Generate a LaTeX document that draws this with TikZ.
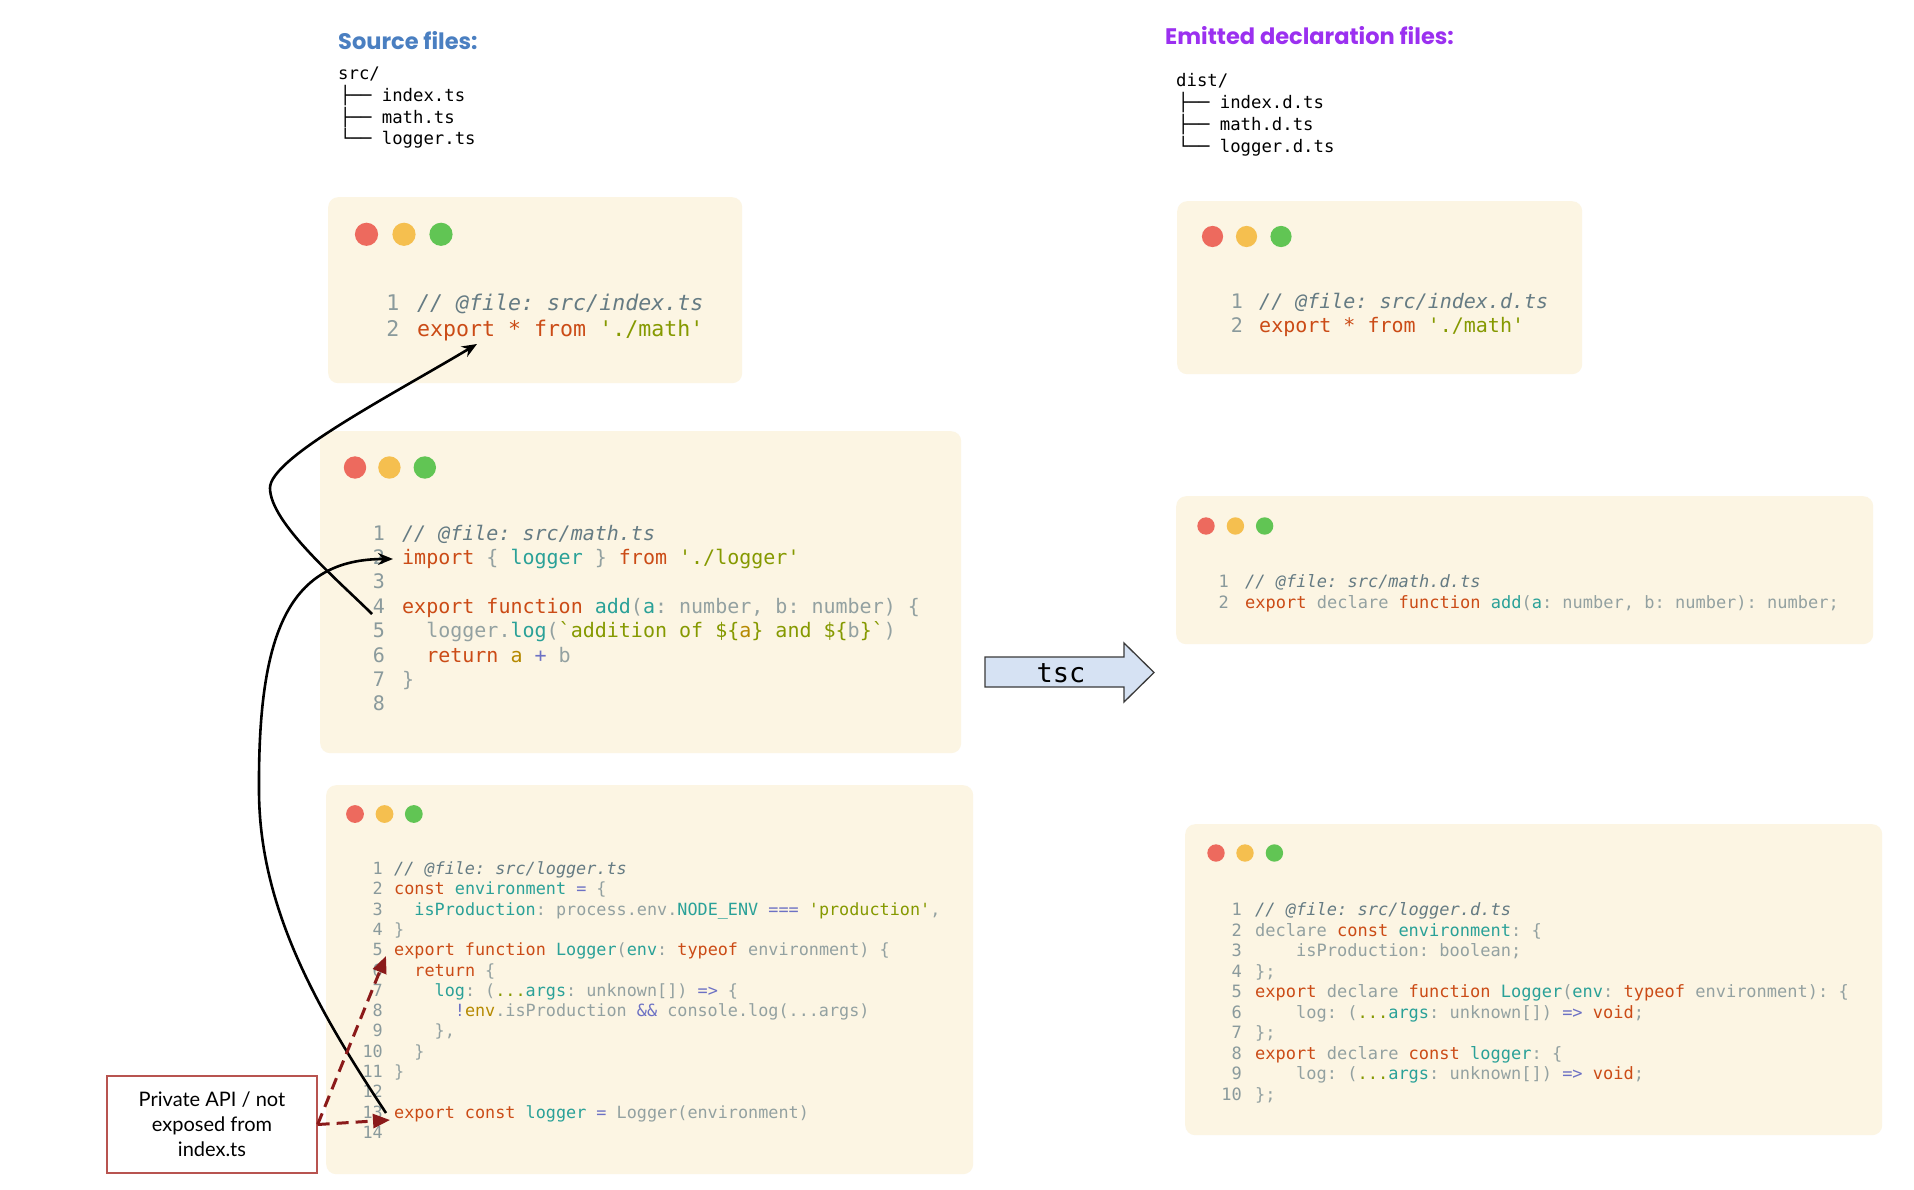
\documentclass[tikz,border=0pt]{standalone}
\usepackage{fontspec}
\setmonofont{DejaVu Sans Mono}
\newfontfamily\titlefont{Poppins}
\newfontfamily\notefont{Lato}
\usetikzlibrary{arrows.meta}
\definecolor{codebg}{HTML}{FCF5E3}
\definecolor{kwc}{HTML}{CB4B16}
\definecolor{stc}{HTML}{859900}
\definecolor{idc}{HTML}{2AA198}
\definecolor{plc}{HTML}{93A1A1}
\definecolor{cmc}{HTML}{657B83}
\definecolor{opc}{HTML}{6C71C4}
\definecolor{ylc}{HTML}{B58900}
\definecolor{lnc}{HTML}{8A9A9C}
\definecolor{dotr}{HTML}{ED6A5E}
\definecolor{doty}{HTML}{F5BF4F}
\definecolor{dotg}{HTML}{61C554}
\definecolor{srcblue}{HTML}{4A7FC1}
\definecolor{emitpurple}{HTML}{9B30F0}
\definecolor{tscfill}{HTML}{D6E2F3}
\definecolor{tscedge}{HTML}{3A3A3A}
\definecolor{darkred}{HTML}{8B1A1A}
\definecolor{paedge}{HTML}{B85450}
\newcommand\kwT[1]{\textcolor{kwc}{#1}}
\newcommand\stT[1]{\textcolor{stc}{#1}}
\newcommand\idT[1]{\textcolor{idc}{#1}}
\newcommand\plT[1]{\textcolor{plc}{#1}}
\newcommand\cmT[1]{\textcolor{cmc}{\itshape #1}}
\newcommand\opT[1]{\textcolor{opc}{#1}}
\newcommand\ylT[1]{\textcolor{ylc}{#1}}
\newcommand\ind[1]{\hspace*{#1\fontcharwd\font`0}}
\newcommand\codeln[6]{\node[lnum] (#1n) at (#2,#4) {#5};\node[codetxt] (#1) at (#3,#4) {#6};}
\tikzset{
  codebox/.style={fill=codebg, rounded corners=10pt, anchor=north west, inner sep=0pt},
  lnum/.style={anchor=base east, inner sep=0pt, text=lnc},
  codetxt/.style={anchor=base west, inner sep=0pt, text=plc},
  treetxt/.style={anchor=base west, inner sep=0pt, font=\ttfamily\fontsize{17.3}{21}\selectfont},
  titletxt/.style={anchor=base west, inner sep=0pt, font=\titlefont\bfseries\fontsize{22.5}{26}\selectfont},
  blackarrow/.style={draw=black, line width=2.6pt, -{Stealth[length=15pt,width=12pt]}},
  redarrow/.style={draw=darkred, line width=3pt, dash pattern=on 12pt off 7pt, -{Triangle[length=17pt,width=14pt]}},
  pabox/.style={draw=paedge, line width=1.3pt, minimum width=210pt, minimum height=97pt, align=center, inner sep=0pt, font=\notefont\fontsize{20}{25}\selectfont},
}
\begin{document}
\begin{tikzpicture}[x=1pt,y=-1pt]
\useasboundingbox[fill=white] (0,0) rectangle (1914,1190);

% titles and trees
\node[titletxt, text=srcblue] (srctitle) at (338,50) {Source files:};
\node[treetxt] (t0) at (338,80) {src/};
\node[treetxt] (t1) at (340,102) {├── index.ts};
\node[treetxt] (t2) at (340,123.5) {├── math.ts};
\node[treetxt] (t3) at (340,145) {└── logger.ts};

\node[titletxt, text=emitpurple] (emittitle) at (1165,45) {Emitted declaration files:};
\node[treetxt] (d0) at (1176,87) {dist/};
\node[treetxt] (d1) at (1178,109) {├── index.d.ts};
\node[treetxt] (d2) at (1178,131) {├── math.d.ts};
\node[treetxt] (d3) at (1178,153) {└── logger.d.ts};

% boxes
\node[codebox, minimum width=414pt, minimum height=186pt] (box1) at (328,197) {};
\node[codebox, minimum width=641pt, minimum height=322pt] (box2) at (320,431) {};
\node[codebox, minimum width=647pt, minimum height=389pt] (box3) at (326,785) {};
\node[codebox, minimum width=405pt, minimum height=173pt] (box4) at (1177,201) {};
\node[codebox, minimum width=697pt, minimum height=148pt] (box5) at (1176,496) {};
\node[codebox, minimum width=697pt, minimum height=311pt] (box6) at (1185,824) {};

% window dots
\fill[dotr] (366.5,234.3) circle[radius=11.6pt];
\fill[doty] (404,234.3) circle[radius=11.6pt];
\fill[dotg] (441,234.3) circle[radius=11.6pt];
\fill[dotr] (355,467.5) circle[radius=11.2pt];
\fill[doty] (389.4,467.5) circle[radius=11.2pt];
\fill[dotg] (424.8,467.5) circle[radius=11.2pt];
\fill[dotr] (355,814) circle[radius=8.9pt];
\fill[doty] (384.5,814) circle[radius=8.9pt];
\fill[dotg] (413.8,814) circle[radius=8.9pt];
\fill[dotr] (1212.5,236.5) circle[radius=10.6pt];
\fill[doty] (1246.5,236.5) circle[radius=10.6pt];
\fill[dotg] (1281,236.5) circle[radius=10.6pt];
\fill[dotr] (1206,526) circle[radius=8.7pt];
\fill[doty] (1235.4,526) circle[radius=8.7pt];
\fill[dotg] (1264.6,526) circle[radius=8.7pt];
\fill[dotr] (1216,853) circle[radius=8.7pt];
\fill[doty] (1245,853) circle[radius=8.7pt];
\fill[dotg] (1274.4,853) circle[radius=8.7pt];

% box 1: src/index.ts
\begin{scope}[font=\ttfamily\fontsize{21.6}{26}\selectfont]
\codeln{ba1}{399.5}{417}{311}{1}{\cmT{// @file: src/index.ts}}
\codeln{ba2}{399.5}{417}{336}{2}{\kwT{export * from} \stT{'./math'}}
\end{scope}

% box 2: src/math.ts
\begin{scope}[font=\ttfamily\fontsize{20}{24}\selectfont]
\codeln{bb1}{385}{402}{540}{1}{\cmT{// @file: src/math.ts}}
\codeln{bb2}{385}{402}{564.4}{2}{\kwT{import} \plT{\{} \idT{logger} \plT{\}} \kwT{from} \stT{'./logger'}}
\codeln{bb3}{385}{402}{588.8}{3}{}
\codeln{bb4}{385}{402}{613.2}{4}{\kwT{export function} \idT{add}\plT{(}\idT{a}\plT{: number, b: number) \{}}
\codeln{bb5}{385}{402}{637.6}{5}{\ind{2}\plT{logger.}\idT{log}\plT{(}\stT{`addition of \$\{}\ylT{a}\stT{\} and \$\{}\plT{b}\stT{\}`}\plT{)}}
\codeln{bb6}{385}{402}{662}{6}{\ind{2}\kwT{return} \ylT{a} \opT{+} \plT{b}}
\codeln{bb7}{385}{402}{686.4}{7}{\plT{\}}}
\codeln{bb8}{385}{402}{710.8}{8}{}
\end{scope}

% box 3: src/logger.ts
\begin{scope}[font=\ttfamily\fontsize{16.8}{20}\selectfont]
\codeln{bc1}{383}{394}{874.5}{1}{\cmT{// @file: src/logger.ts}}
\codeln{bc2}{383}{394}{894.8}{2}{\kwT{const} \idT{environment} \opT{=} \plT{\{}}
\codeln{bc3}{383}{394}{915.1}{3}{\ind{2}\idT{isProduction}\plT{: process.env.}\idT{NODE\_ENV} \opT{===} \stT{'production'}\plT{,}}
\codeln{bc4}{383}{394}{935.4}{4}{\plT{\}}}
\codeln{bc5}{383}{394}{955.7}{5}{\kwT{export function} \idT{Logger}\plT{(}\idT{env}\plT{:} \kwT{typeof} \plT{environment) \{}}
\codeln{bc6}{383}{394}{976}{6}{\ind{2}\kwT{return} \plT{\{}}
\codeln{bc7}{383}{394}{996.3}{7}{\ind{4}\idT{log}\plT{: (}\stT{...}\idT{args}\plT{: unknown[])} \opT{=>} \plT{\{}}
\codeln{bc8}{383}{394}{1016.6}{8}{\ind{6}\opT{!}\ylT{env}\plT{.isProduction} \opT{\&\&} \plT{console.log(...args)}}
\codeln{bc9}{383}{394}{1036.9}{9}{\ind{4}\plT{\},}}
\codeln{bc10}{383}{394}{1057.2}{10}{\ind{2}\plT{\}}}
\codeln{bc11}{383}{394}{1077.5}{11}{\plT{\}}}
\codeln{bc12}{383}{394}{1097.8}{12}{}
\codeln{bc13}{383}{394}{1118.1}{13}{\kwT{export const} \idT{logger} \opT{=} \plT{Logger(environment)}}
\codeln{bc14}{383}{394}{1138.4}{14}{}
\end{scope}

% box 4: index.d.ts
\begin{scope}[font=\ttfamily\fontsize{20}{24}\selectfont]
\codeln{bd1}{1243}{1259}{308.5}{1}{\cmT{// @file: src/index.d.ts}}
\codeln{bd2}{1243}{1259}{332.5}{2}{\kwT{export * from} \stT{'./math'}}
\end{scope}

% box 5: math.d.ts
\begin{scope}[font=\ttfamily\fontsize{17}{20}\selectfont]
\codeln{be1}{1229}{1245}{587}{1}{\cmT{// @file: src/math.d.ts}}
\codeln{be2}{1229}{1245}{608}{2}{\kwT{export} \plT{declare} \kwT{function} \idT{add}\plT{(}\idT{a}\plT{: number, b: number): number;}}
\end{scope}

% box 6: logger.d.ts
\begin{scope}[font=\ttfamily\fontsize{17}{20}\selectfont]
\codeln{bf1}{1242}{1255}{915.5}{1}{\cmT{// @file: src/logger.d.ts}}
\codeln{bf2}{1242}{1255}{936}{2}{\plT{declare} \kwT{const} \idT{environment}\plT{: \{}}
\codeln{bf3}{1242}{1255}{956.5}{3}{\ind{4}\plT{isProduction: boolean;}}
\codeln{bf4}{1242}{1255}{977}{4}{\plT{\};}}
\codeln{bf5}{1242}{1255}{997.5}{5}{\kwT{export} \plT{declare} \kwT{function} \idT{Logger}\plT{(}\idT{env}\plT{:} \kwT{typeof} \plT{environment): \{}}
\codeln{bf6}{1242}{1255}{1018}{6}{\ind{4}\plT{log: (}\stT{...}\idT{args}\plT{: unknown[])} \opT{=>} \kwT{void}\plT{;}}
\codeln{bf7}{1242}{1255}{1038.5}{7}{\plT{\};}}
\codeln{bf8}{1242}{1255}{1059}{8}{\kwT{export} \plT{declare} \kwT{const} \idT{logger}\plT{: \{}}
\codeln{bf9}{1242}{1255}{1079.5}{9}{\ind{4}\plT{log: (}\stT{...}\idT{args}\plT{: unknown[])} \opT{=>} \kwT{void}\plT{;}}
\codeln{bf10}{1242}{1255}{1100}{10}{\plT{\};}}
\end{scope}

% tsc arrow
\draw[fill=tscfill, draw=tscedge, line width=1.3pt, line join=miter]
  (985,657) -- (1124,657) -- (1124,643) -- (1154,672.5) -- (1124,702) -- (1124,687) -- (985,687) -- cycle;
\node[inner sep=0pt, font=\ttfamily\fontsize{27}{30}\selectfont] (tsc) at (1061,673) {tsc};

% private API note
\node[pabox] (pa) at (212,1124.5) {Private API / not\\exposed from\\index.ts};

% connectors
\coordinate (a1s) at (372,614);
\coordinate (a1m) at (270,488);
\coordinate (a1e) at (477,344);
\draw[blackarrow] (a1s) .. controls (340,582) and (270,523) .. (a1m) .. controls (270,458) and (390,396) .. (a1e);

\coordinate (a2s) at (386,1113);
\coordinate (a2m) at (259,790);
\coordinate (a2e) at (393,559);
\draw[blackarrow] (a2s) .. controls (320,1013) and (259,910) .. (a2m) .. controls (258,630) and (290,559) .. (a2e);

\coordinate (r1e) at (390,1120);
\coordinate (r2e) at (386,956);
\draw[redarrow] (pa.east) -- (r1e);
\draw[redarrow] (pa.east) -- (r2e);
\end{tikzpicture}
\end{document}
